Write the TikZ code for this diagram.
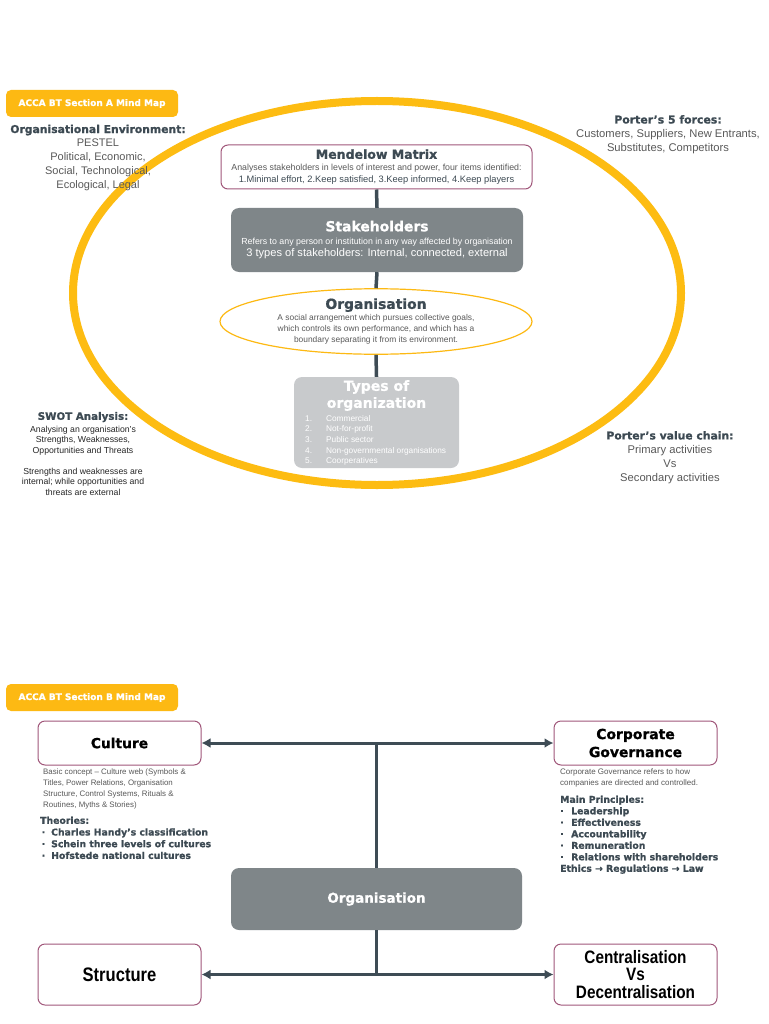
\documentclass[tikz,border=0pt]{standalone}
\usepackage{fontspec}
\setmainfont{Liberation Sans}
\newfontfamily\heavy{DejaVu Sans Bold}[FakeBold=1]
\newfontfamily\narrowbold{Liberation Sans Bold}[FakeStretch=0.85]
\usetikzlibrary{arrows.meta,shapes.geometric}
\definecolor{accaorange}{HTML}{FDB913}
\definecolor{slate}{HTML}{3D4A53}
\definecolor{txtgray}{HTML}{595959}
\definecolor{boxgray}{HTML}{7F8689}
\definecolor{lightbox}{HTML}{C8CACC}
\definecolor{boxpurple}{HTML}{A0577A}
\definecolor{connc}{HTML}{3E4C55}
\tikzset{
  accalabel/.style={fill=accaorange, rounded corners=5pt, minimum width=172pt, minimum height=27pt,
    text=white, font=\heavy\fontsize{9}{10}\selectfont, inner sep=0pt},
  pbox/.style={draw=boxpurple, line width=1pt, rounded corners=7pt, fill=white, inner sep=0pt, align=center},
  gbox/.style={fill=boxgray, rounded corners=8pt, inner sep=0pt, align=center, text=white},
  conn/.style={draw=connc, line width=3.5pt},
  arr/.style={draw=connc, line width=3pt, {Latex[length=9pt,width=10pt]}-{Latex[length=9pt,width=10pt]}},
  txt/.style={inner sep=0pt, align=center},
}
\begin{document}
\begin{tikzpicture}[x=1pt,y=-1pt]
\useasboundingbox (0,0) rectangle (768,1024);
\fill[white] (0,0) rectangle (768,1024);

% ================= Section A =================
\node[accalabel] (labelA) at (92,103.5) {ACCA BT Section A Mind Map};

\draw[accaorange!95!yellow, line width=8pt] (377,293) ellipse [x radius=304, y radius=192];

\node[pbox, minimum width=311pt, minimum height=44pt, font=\fontsize{8.8}{12}\selectfont, text=slate] (mendelow) at (376.5,167)
  {{\heavy\fontsize{12.5}{12}\selectfont Mendelow Matrix}\\
   {\color{txtgray}Analyses stakeholders in levels of interest and power, four items identified:}\\
   {\fontsize{9.3}{12}\selectfont\color{slate}1.Minimal effort, 2.Keep satisfied, 3.Keep informed, 4.Keep players}};

\node[gbox, minimum width=292pt, minimum height=64pt, font=\fontsize{8.8}{12.8}\selectfont] (stake) at (377,240)
  {{\heavy\fontsize{13.9}{12}\selectfont Stakeholders}\\
   Refers to any person or institution in any way affected by organisation\\
   {\fontsize{11.1}{12}\selectfont 3 types of stakeholders: Internal, connected, external}};

\node[ellipse, draw=accaorange, line width=1.2pt, fill=white, minimum width=312pt, minimum height=61pt, inner sep=0pt,
  align=center, font=\fontsize{8.4}{11}\selectfont, text=txtgray] (orgA) at (376,321.5)
  {{\heavy\fontsize{13.9}{12}\selectfont\color{slate} Organisation}\\[1pt]
   A social arrangement which pursues collective goals,\\
   which controls its own performance, and which has a\\
   boundary separating it from its environment.};

\node[fill=lightbox, rounded corners=8pt, minimum width=165pt, minimum height=91pt, inner sep=0pt] (types) at (376.5,422.5) {};
\node[txt, text=white, font=\heavy\fontsize{14}{17}\selectfont] (typestitle) at (376.5,395.5) {Types of\\organization};
\node[inner sep=0pt, anchor=north west, text=white, font=\fontsize{8.3}{10.7}\selectfont] (typeslist) at (305,413.5)
  {\begin{tabular}{@{}l@{\hspace{14pt}}l@{}}
   1.&Commercial\\ 2.&Not-for-profit\\ 3.&Public sector\\ 4.&Non-governmental organisations\\ 5.&Coorperatives
   \end{tabular}};

\draw[conn] (mendelow.south) -- (stake.north);
\draw[conn] (stake.south) -- (orgA.north);
\draw[conn] (orgA.south) -- (types.north);

\node[txt, anchor=north, text=txtgray, font=\fontsize{11}{13.8}\selectfont] (orgenv) at (98,124.6)
  {{\heavy\fontsize{10.8}{13.8}\selectfont\color{slate} Organisational Environment:}\\
   PESTEL\\ Political, Economic,\\ Social, Technological,\\ Ecological, Legal};

\node[txt, anchor=north, text=txtgray, font=\fontsize{11.2}{14}\selectfont] (porter5) at (668,115)
  {{\heavy\fontsize{10.9}{14}\selectfont\color{slate} Porter’s 5 forces:}\\
   Customers, Suppliers, New Entrants,\\ Substitutes, Competitors};

\node[txt, anchor=north, text=txtgray, font=\fontsize{11.2}{14}\selectfont] (porterv) at (670,431)
  {{\heavy\fontsize{10.8}{14}\selectfont\color{slate} Porter’s value chain:}\\
   Primary activities\\ Vs\\ Secondary activities};

\node[txt, anchor=north, text=black!85, font=\fontsize{8.7}{10.5}\selectfont] (swot) at (83,411.8)
  {{\heavy\fontsize{10.3}{12}\selectfont\color{slate} SWOT Analysis:}\\[2pt]
   Analysing an organisation’s\\ Strengths, Weaknesses,\\ Opportunities and Threats\\[10.5pt]
   Strengths and weaknesses are\\ internal; while opportunities and\\ threats are external};

% ================= Section B =================
\node[accalabel] (labelB) at (92,697.5) {ACCA BT Section B Mind Map};

\node[pbox, minimum width=163pt, minimum height=44pt, font=\heavy\fontsize{13.8}{18}\selectfont] (culture) at (119.5,743) {Culture};
\node[pbox, minimum width=163pt, minimum height=44pt, font=\heavy\fontsize{13.9}{18}\selectfont] (cg) at (635.5,743) {Corporate\\Governance};
\node[gbox, minimum width=291pt, minimum height=62pt, font=\heavy\fontsize{13.5}{15}\selectfont] (orgB) at (376.5,899) {Organisation};
\node[pbox, minimum width=163pt, minimum height=61pt, font=\narrowbold\fontsize{19.5}{17.5}\selectfont] (structure) at (119.5,974.5) {Structure};
\node[pbox, minimum width=163pt, minimum height=61pt, font=\narrowbold\fontsize{18}{17.5}\selectfont] (central) at (635.5,974.5) {Centralisation\\Vs\\Decentralisation};

\draw[arr] (culture.east) -- (cg.west);
\draw[arr] (structure.east) -- (central.west);
\draw[conn] (orgB.north |- culture.east) -- (orgB.north);
\draw[conn] (orgB.south) -- (orgB.south |- structure.east);

\node[inner sep=0pt, anchor=north west, align=left, text=txtgray, font=\fontsize{7.9}{11}\selectfont] (culturetxt) at (43,768.5)
  {Basic concept – Culture web (Symbols \&\\ Titles, Power Relations, Organisation\\ Structure, Control Systems, Rituals \&\\ Routines, Myths \& Stories)};

\node[inner sep=0pt, anchor=north west, align=left, text=slate, font=\heavy\fontsize{9.3}{11.7}\selectfont] (theories) at (40,816.5)
  {Theories:\\
   \makebox[11pt][l]{\,·}Charles Handy’s classification\\
   \makebox[11pt][l]{\,·}Schein three levels of cultures\\
   \makebox[11pt][l]{\,·}Hofstede national cultures};

\node[inner sep=0pt, anchor=north west, align=left, text=txtgray, font=\fontsize{8}{10.5}\selectfont] (cgtxt) at (560,768.5)
  {Corporate Governance refers to how\\ companies are directed and controlled.};

\node[inner sep=0pt, anchor=north west, align=left, text=slate, font=\heavy\fontsize{9.3}{11.5}\selectfont] (principles) at (560,795.5)
  {Main Principles:\\
   \makebox[11pt][l]{·}Leadership\\
   \makebox[11pt][l]{·}Effectiveness\\
   \makebox[11pt][l]{·}Accountability\\
   \makebox[11pt][l]{·}Remuneration\\
   \makebox[11pt][l]{·}Relations with shareholders\\
   Ethics → Regulations → Law};
\end{tikzpicture}
\end{document}
